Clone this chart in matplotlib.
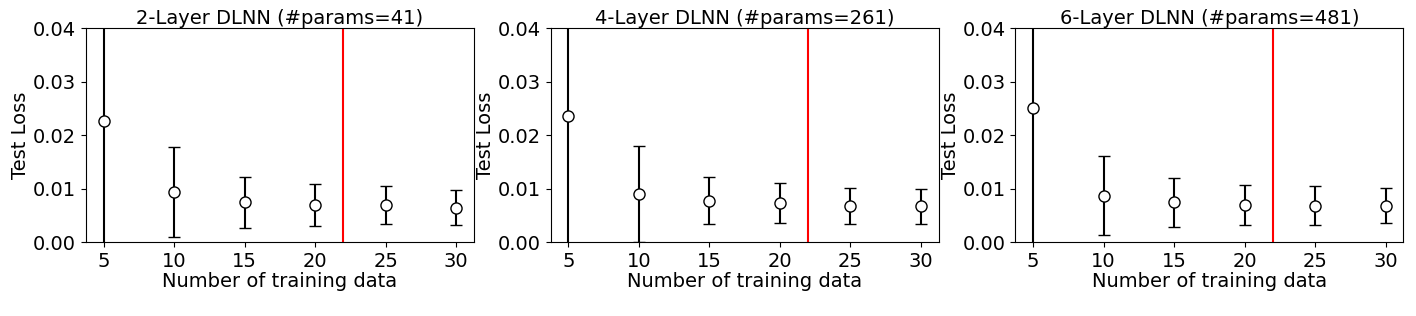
import numpy as np
import matplotlib
matplotlib.use("Agg")
import matplotlib.pyplot as plt

# number of training samples
n_train = [5, 10, 15, 20, 25, 30]

titles = ["2-Layer DLNN (#params=41)",
          "4-Layer DLNN (#params=261)",
          "6-Layer DLNN (#params=481)"]

# mean test loss per model
mean_2 = [0.0227, 0.0093, 0.0074, 0.0069, 0.0069, 0.0064]
mean_4 = [0.0235, 0.0090, 0.0077, 0.0073, 0.0068, 0.0067]
mean_6 = [0.0250, 0.0087, 0.0074, 0.0069, 0.0068, 0.0068]

# std (symmetric error bars); first one goes off the chart
err_2 = [0.05, 0.0084, 0.0047, 0.0039, 0.0036, 0.0033]
err_4 = [0.05, 0.0089, 0.0044, 0.0038, 0.0034, 0.0033]
err_6 = [0.05, 0.0073, 0.0045, 0.0037, 0.0036, 0.0033]

interp_threshold = 22

means = [mean_2, mean_4, mean_6]
errs = [err_2, err_4, err_6]

plt.rcParams['font.size'] = 14

fig, axes = plt.subplots(1, 3, figsize=(14.16, 3.16), dpi=100)
fig.subplots_adjust(left=0.0607, right=0.991, bottom=0.234, top=0.911, wspace=0.198)

for ax, t, m, e in zip(axes, titles, means, errs):
    ax.errorbar(n_train, m, yerr=e, fmt='o', color='black', mfc='white',
                mec='black', ms=8, mew=1.0, capsize=4, elinewidth=1.5,
                capthick=1.5, zorder=3)
    ax.axvline(interp_threshold, color='red', lw=1.5)
    ax.set_ylim(0, 0.04)
    ax.set_yticks([0, 0.01, 0.02, 0.03, 0.04])
    ax.set_xticks(n_train)
    ax.set_title(t, fontsize=14, pad=3)
    ax.set_xlabel("Number of training data", fontsize=14, labelpad=1)
    ax.set_ylabel("Test Loss", fontsize=14, labelpad=2)
    ax.tick_params(labelsize=14)

fig.savefig("out.png", dpi=100)
